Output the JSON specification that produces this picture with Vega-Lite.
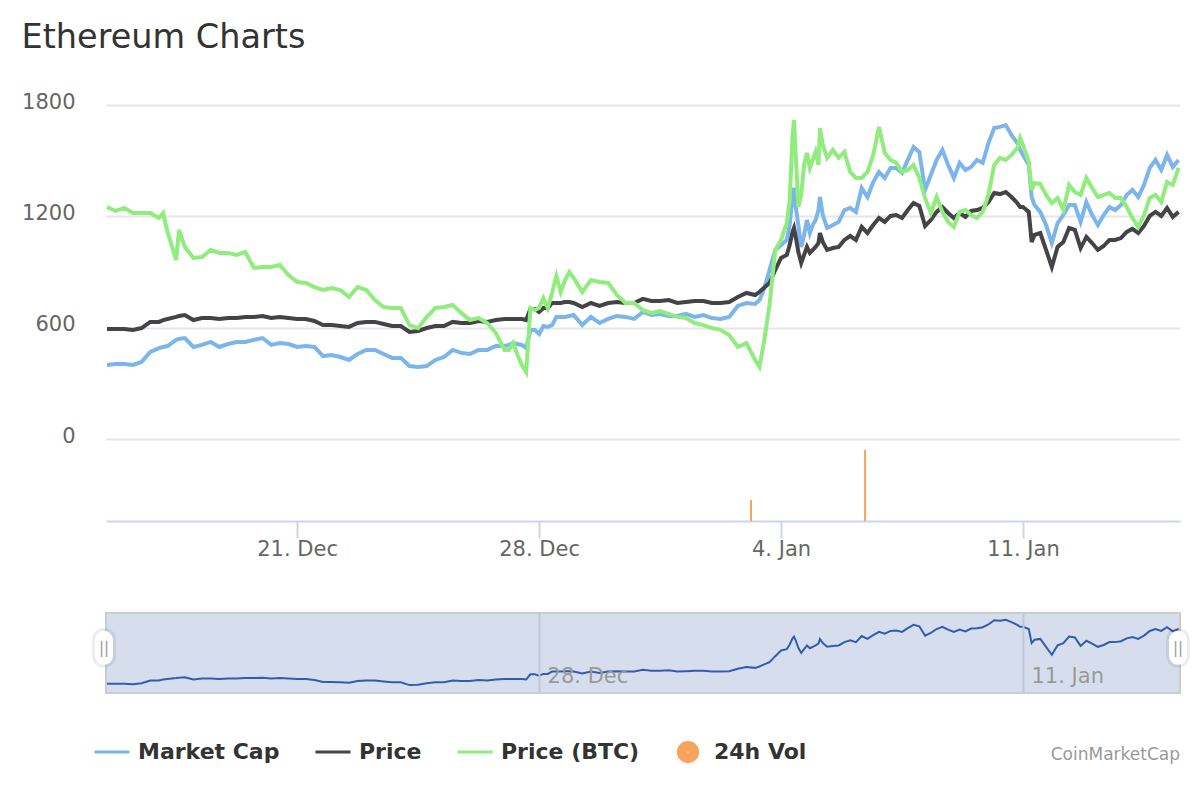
{
  "$schema": "https://vega.github.io/schema/vega-lite/v6.json",
  "title": {"text": "Ethereum Charts", "anchor": "start", "frame": "bounds", "font": "DejaVu Sans", "fontSize": 33.5, "fontWeight": "normal", "color": "#333333", "offset": 36},
  "padding": {"left": 21, "top": 20, "right": 20, "bottom": 5},
  "background": "white",
  "datasets": {
    "prices": [
      {"t":"2017-12-15T12:00","cap":399,"price":593,"btc":1250},
      {"t":"2017-12-15T18:00","cap":404,"price":593,"btc":1229},
      {"t":"2017-12-16T00:00","cap":404,"price":593,"btc":1245},
      {"t":"2017-12-16T06:00","cap":399,"price":588,"btc":1218},
      {"t":"2017-12-16T12:00","cap":415,"price":598,"btc":1218},
      {"t":"2017-12-16T18:00","cap":469,"price":631,"btc":1218},
      {"t":"2017-12-17T00:00","cap":490,"price":631,"btc":1191},
      {"t":"2017-12-17T03:00","cap":496,"price":641,"btc":1218},
      {"t":"2017-12-17T06:00","cap":501,"price":647,"btc":1116},
      {"t":"2017-12-17T12:00","cap":534,"price":658,"btc":965},
      {"t":"2017-12-17T14:00","cap":539,"price":663,"btc":1127},
      {"t":"2017-12-17T18:00","cap":544,"price":668,"btc":1035},
      {"t":"2017-12-18T00:00","cap":496,"price":641,"btc":976},
      {"t":"2017-12-18T06:00","cap":507,"price":652,"btc":981},
      {"t":"2017-12-18T12:00","cap":523,"price":652,"btc":1019},
      {"t":"2017-12-18T18:00","cap":496,"price":647,"btc":1003},
      {"t":"2017-12-19T00:00","cap":512,"price":652,"btc":1003},
      {"t":"2017-12-19T06:00","cap":523,"price":652,"btc":992},
      {"t":"2017-12-19T12:00","cap":523,"price":658,"btc":1008},
      {"t":"2017-12-19T18:00","cap":534,"price":658,"btc":922},
      {"t":"2017-12-20T00:00","cap":544,"price":663,"btc":927},
      {"t":"2017-12-20T06:00","cap":507,"price":652,"btc":927},
      {"t":"2017-12-20T12:00","cap":517,"price":658,"btc":938},
      {"t":"2017-12-20T18:00","cap":512,"price":652,"btc":884},
      {"t":"2017-12-21T00:00","cap":496,"price":647,"btc":846},
      {"t":"2017-12-21T06:00","cap":501,"price":647,"btc":841},
      {"t":"2017-12-21T12:00","cap":496,"price":636,"btc":819},
      {"t":"2017-12-21T18:00","cap":447,"price":614,"btc":803},
      {"t":"2017-12-22T00:00","cap":453,"price":614,"btc":814},
      {"t":"2017-12-22T06:00","cap":442,"price":609,"btc":803},
      {"t":"2017-12-22T12:00","cap":426,"price":604,"btc":765},
      {"t":"2017-12-22T18:00","cap":458,"price":625,"btc":819},
      {"t":"2017-12-23T00:00","cap":480,"price":631,"btc":803},
      {"t":"2017-12-23T06:00","cap":480,"price":631,"btc":749},
      {"t":"2017-12-23T12:00","cap":458,"price":620,"btc":711},
      {"t":"2017-12-23T18:00","cap":437,"price":609,"btc":706},
      {"t":"2017-12-24T00:00","cap":437,"price":609,"btc":706},
      {"t":"2017-12-24T06:00","cap":393,"price":577,"btc":614},
      {"t":"2017-12-24T12:00","cap":388,"price":582,"btc":598},
      {"t":"2017-12-24T18:00","cap":393,"price":598,"btc":658},
      {"t":"2017-12-25T00:00","cap":426,"price":609,"btc":706},
      {"t":"2017-12-25T06:00","cap":442,"price":609,"btc":711},
      {"t":"2017-12-25T12:00","cap":480,"price":631,"btc":722},
      {"t":"2017-12-25T18:00","cap":464,"price":625,"btc":679},
      {"t":"2017-12-26T00:00","cap":458,"price":625,"btc":641},
      {"t":"2017-12-26T06:00","cap":480,"price":636,"btc":652},
      {"t":"2017-12-26T12:00","cap":480,"price":631,"btc":625},
      {"t":"2017-12-26T18:00","cap":501,"price":641,"btc":571},
      {"t":"2017-12-27T00:00","cap":501,"price":647,"btc":480},
      {"t":"2017-12-27T03:00","cap":507,"price":647,"btc":480},
      {"t":"2017-12-27T06:00","cap":517,"price":647,"btc":517},
      {"t":"2017-12-27T09:00","cap":512,"price":647,"btc":453},
      {"t":"2017-12-27T12:00","cap":507,"price":647,"btc":399},
      {"t":"2017-12-27T15:00","cap":490,"price":641,"btc":361},
      {"t":"2017-12-27T18:00","cap":588,"price":701,"btc":706},
      {"t":"2017-12-27T21:00","cap":588,"price":701,"btc":695},
      {"t":"2017-12-28T00:00","cap":566,"price":685,"btc":706},
      {"t":"2017-12-28T03:00","cap":609,"price":706,"btc":760},
      {"t":"2017-12-28T06:00","cap":604,"price":706,"btc":706},
      {"t":"2017-12-28T09:00","cap":614,"price":733,"btc":787},
      {"t":"2017-12-28T12:00","cap":658,"price":733,"btc":879},
      {"t":"2017-12-28T15:00","cap":658,"price":733,"btc":792},
      {"t":"2017-12-28T18:00","cap":658,"price":738,"btc":857},
      {"t":"2017-12-28T21:00","cap":663,"price":738,"btc":900},
      {"t":"2017-12-29T00:00","cap":668,"price":733,"btc":868},
      {"t":"2017-12-29T06:00","cap":614,"price":711,"btc":792},
      {"t":"2017-12-29T12:00","cap":658,"price":733,"btc":857},
      {"t":"2017-12-29T18:00","cap":625,"price":717,"btc":846},
      {"t":"2017-12-30T00:00","cap":647,"price":733,"btc":841},
      {"t":"2017-12-30T06:00","cap":663,"price":738,"btc":776},
      {"t":"2017-12-30T12:00","cap":658,"price":733,"btc":733},
      {"t":"2017-12-30T18:00","cap":647,"price":733,"btc":733},
      {"t":"2017-12-31T00:00","cap":685,"price":755,"btc":695},
      {"t":"2017-12-31T06:00","cap":668,"price":744,"btc":679},
      {"t":"2017-12-31T12:00","cap":674,"price":744,"btc":690},
      {"t":"2017-12-31T18:00","cap":663,"price":749,"btc":674},
      {"t":"2018-01-01T00:00","cap":663,"price":733,"btc":658},
      {"t":"2018-01-01T06:00","cap":674,"price":738,"btc":652},
      {"t":"2018-01-01T12:00","cap":658,"price":744,"btc":625},
      {"t":"2018-01-01T18:00","cap":668,"price":744,"btc":614},
      {"t":"2018-01-02T00:00","cap":652,"price":733,"btc":598},
      {"t":"2018-01-02T06:00","cap":647,"price":733,"btc":588},
      {"t":"2018-01-02T12:00","cap":658,"price":738,"btc":561},
      {"t":"2018-01-02T18:00","cap":717,"price":765,"btc":496},
      {"t":"2018-01-03T00:00","cap":733,"price":787,"btc":517},
      {"t":"2018-01-03T06:00","cap":728,"price":776,"btc":426},
      {"t":"2018-01-03T09:00","cap":749,"price":792,"btc":388},
      {"t":"2018-01-03T12:00","cap":803,"price":814,"btc":517},
      {"t":"2018-01-03T16:00","cap":911,"price":841,"btc":722},
      {"t":"2018-01-03T20:00","cap":1019,"price":911,"btc":1019},
      {"t":"2018-01-04T00:00","cap":1046,"price":976,"btc":1073},
      {"t":"2018-01-04T04:00","cap":1073,"price":992,"btc":1164},
      {"t":"2018-01-04T06:00","cap":1153,"price":1046,"btc":1288},
      {"t":"2018-01-04T08:00","cap":1315,"price":1116,"btc":1639},
      {"t":"2018-01-04T09:00","cap":1353,"price":1137,"btc":1719},
      {"t":"2018-01-04T10:00","cap":1261,"price":1100,"btc":1558},
      {"t":"2018-01-04T12:00","cap":1153,"price":1008,"btc":1250},
      {"t":"2018-01-04T14:00","cap":1035,"price":949,"btc":1315},
      {"t":"2018-01-04T16:00","cap":1100,"price":992,"btc":1477},
      {"t":"2018-01-04T18:00","cap":1180,"price":1035,"btc":1542},
      {"t":"2018-01-04T20:00","cap":1110,"price":1003,"btc":1461},
      {"t":"2018-01-04T22:00","cap":1153,"price":1019,"btc":1504},
      {"t":"2018-01-05T00:00","cap":1180,"price":1035,"btc":1547},
      {"t":"2018-01-05T02:00","cap":1234,"price":1056,"btc":1477},
      {"t":"2018-01-05T03:00","cap":1304,"price":1110,"btc":1676},
      {"t":"2018-01-05T05:00","cap":1207,"price":1062,"btc":1585},
      {"t":"2018-01-05T08:00","cap":1137,"price":1019,"btc":1515},
      {"t":"2018-01-05T12:00","cap":1153,"price":1029,"btc":1558},
      {"t":"2018-01-05T16:00","cap":1170,"price":1035,"btc":1515},
      {"t":"2018-01-05T20:00","cap":1234,"price":1073,"btc":1547},
      {"t":"2018-01-06T00:00","cap":1245,"price":1094,"btc":1439},
      {"t":"2018-01-06T04:00","cap":1224,"price":1073,"btc":1407},
      {"t":"2018-01-06T08:00","cap":1353,"price":1143,"btc":1407},
      {"t":"2018-01-06T12:00","cap":1304,"price":1110,"btc":1439},
      {"t":"2018-01-06T16:00","cap":1385,"price":1153,"btc":1531},
      {"t":"2018-01-06T20:00","cap":1439,"price":1191,"btc":1682},
      {"t":"2018-01-07T00:00","cap":1407,"price":1170,"btc":1542},
      {"t":"2018-01-07T04:00","cap":1461,"price":1202,"btc":1504},
      {"t":"2018-01-07T08:00","cap":1461,"price":1207,"btc":1488},
      {"t":"2018-01-07T12:00","cap":1434,"price":1191,"btc":1439},
      {"t":"2018-01-07T16:00","cap":1504,"price":1234,"btc":1450},
      {"t":"2018-01-07T20:00","cap":1574,"price":1272,"btc":1477},
      {"t":"2018-01-08T00:00","cap":1547,"price":1256,"btc":1407},
      {"t":"2018-01-08T04:00","cap":1342,"price":1148,"btc":1299},
      {"t":"2018-01-08T08:00","cap":1423,"price":1180,"btc":1218},
      {"t":"2018-01-08T12:00","cap":1504,"price":1224,"btc":1304},
      {"t":"2018-01-08T16:00","cap":1558,"price":1250,"btc":1224},
      {"t":"2018-01-08T20:00","cap":1477,"price":1218,"btc":1170},
      {"t":"2018-01-09T00:00","cap":1407,"price":1191,"btc":1143},
      {"t":"2018-01-09T04:00","cap":1488,"price":1218,"btc":1224},
      {"t":"2018-01-09T08:00","cap":1450,"price":1197,"btc":1234},
      {"t":"2018-01-09T12:00","cap":1466,"price":1229,"btc":1207},
      {"t":"2018-01-09T16:00","cap":1504,"price":1234,"btc":1191},
      {"t":"2018-01-09T20:00","cap":1488,"price":1245,"btc":1224},
      {"t":"2018-01-10T00:00","cap":1595,"price":1277,"btc":1315},
      {"t":"2018-01-10T04:00","cap":1676,"price":1326,"btc":1477},
      {"t":"2018-01-10T08:00","cap":1682,"price":1320,"btc":1515},
      {"t":"2018-01-10T12:00","cap":1692,"price":1331,"btc":1504},
      {"t":"2018-01-10T16:00","cap":1639,"price":1304,"btc":1531},
      {"t":"2018-01-10T20:00","cap":1595,"price":1272,"btc":1568},
      {"t":"2018-01-10T22:00","cap":1558,"price":1250,"btc":1622},
      {"t":"2018-01-11T00:00","cap":1531,"price":1250,"btc":1585},
      {"t":"2018-01-11T04:00","cap":1477,"price":1224,"btc":1493},
      {"t":"2018-01-11T06:00","cap":1304,"price":1062,"btc":1342},
      {"t":"2018-01-11T08:00","cap":1261,"price":1100,"btc":1380},
      {"t":"2018-01-11T12:00","cap":1224,"price":1110,"btc":1374},
      {"t":"2018-01-11T16:00","cap":1153,"price":1019,"btc":1315},
      {"t":"2018-01-11T20:00","cap":1056,"price":927,"btc":1272},
      {"t":"2018-01-12T00:00","cap":1164,"price":1035,"btc":1299},
      {"t":"2018-01-12T04:00","cap":1207,"price":1062,"btc":1234},
      {"t":"2018-01-12T08:00","cap":1261,"price":1137,"btc":1369},
      {"t":"2018-01-12T12:00","cap":1261,"price":1127,"btc":1331},
      {"t":"2018-01-12T16:00","cap":1170,"price":1029,"btc":1315},
      {"t":"2018-01-12T20:00","cap":1277,"price":1089,"btc":1407},
      {"t":"2018-01-13T00:00","cap":1207,"price":1056,"btc":1353},
      {"t":"2018-01-13T04:00","cap":1153,"price":1019,"btc":1304},
      {"t":"2018-01-13T08:00","cap":1207,"price":1040,"btc":1315},
      {"t":"2018-01-13T12:00","cap":1250,"price":1073,"btc":1326},
      {"t":"2018-01-13T16:00","cap":1234,"price":1073,"btc":1299},
      {"t":"2018-01-13T20:00","cap":1261,"price":1083,"btc":1299},
      {"t":"2018-01-14T00:00","cap":1315,"price":1116,"btc":1250},
      {"t":"2018-01-14T04:00","cap":1342,"price":1132,"btc":1191},
      {"t":"2018-01-14T08:00","cap":1304,"price":1110,"btc":1143},
      {"t":"2018-01-14T12:00","cap":1369,"price":1148,"btc":1207},
      {"t":"2018-01-14T16:00","cap":1461,"price":1202,"btc":1299},
      {"t":"2018-01-14T20:00","cap":1504,"price":1224,"btc":1315},
      {"t":"2018-01-15T00:00","cap":1450,"price":1202,"btc":1277},
      {"t":"2018-01-15T04:00","cap":1531,"price":1245,"btc":1385},
      {"t":"2018-01-15T08:00","cap":1466,"price":1197,"btc":1369},
      {"t":"2018-01-15T12:00","cap":1504,"price":1224,"btc":1461}
    ],
    "volume": [
      {"t":"2018-01-03T03:10","vol":21},
      {"t":"2018-01-06T10:20","vol":71}
    ],
    "handles": [
      {"t":"2017-12-15T09:55","lo":915,"hi":1100,"mid":1008,"grip":"||"},
      {"t":"2018-01-15T11:36","lo":915,"hi":1100,"mid":1008,"grip":"||"}
    ],
    "series": [
      {"name":"Market Cap"},
      {"name":"Price"},
      {"name":"Price (BTC)"},
      {"name":"24h Vol"}
    ],
    "credit": [
      {"t":"2018-01-15T13:00","label":"CoinMarketCap"}
    ]
  },
  "spacing": 53,
  "bounds": "full",
  "vconcat": [
    {
      "spacing": 0,
      "bounds": "flush",
      "vconcat": [
        {
          "width": 1074,
          "height": 334,
          "view": {"stroke": null},
          "data": {"name": "prices"},
          "transform": [{"fold": ["cap", "price", "btc"], "as": ["series", "value"]}],
          "mark": {"type": "line", "strokeWidth": 4, "interpolate": "linear"},
          "encoding": {
            "x": {
              "field": "t",
              "type": "temporal",
              "axis": null,
              "scale": {"domain": ["2017-12-15T11:18", "2018-01-15T13:00"], "nice": false}
            },
            "y": {
              "field": "value",
              "type": "quantitative",
              "scale": {"domain": [0, 1800], "nice": false},
              "axis": {
                "title": null,
                "values": [0, 600, 1200, 1800],
                "format": "d",
                "domain": false,
                "ticks": false,
                "gridColor": "#e6e6e6",
                "gridWidth": 2,
                "labelFont": "DejaVu Sans",
                "labelFontSize": 21,
                "labelColor": "#666666",
                "labelPadding": 31,
                "labelOffset": -3
              }
            },
            "color": {
              "field": "series",
              "type": "nominal",
              "legend": null,
              "scale": {"domain": ["cap", "price", "btc"], "range": ["#7cb5ec", "#434348", "#90ed7d"]}
            }
          }
        },
        {
          "width": 1074,
          "height": 82,
          "view": {"stroke": null},
          "data": {"name": "volume"},
          "mark": {"type": "bar", "width": 2, "color": "#f7a35c"},
          "encoding": {
            "x": {
              "field": "t",
              "type": "temporal",
              "scale": {"domain": ["2017-12-15T11:18", "2018-01-15T13:00"], "nice": false, "padding": 0},
              "axis": {
                "title": null,
                "grid": false,
                "values": [
                  {"year": 2017, "month": 12, "date": 21},
                  {"year": 2017, "month": 12, "date": 28},
                  {"year": 2018, "month": 1, "date": 4},
                  {"year": 2018, "month": 1, "date": 11}
                ],
                "format": "%-d. %b",
                "domainColor": "#ccd6eb",
                "domainWidth": 2,
                "tickColor": "#ccd6eb",
                "tickSize": 17,
                "tickWidth": 2,
                "labelFont": "DejaVu Sans",
                "labelFontSize": 21,
                "labelColor": "#666666",
                "labelPadding": 0,
                "labelFlush": false
              }
            },
            "y": {
              "field": "vol",
              "type": "quantitative",
              "axis": null,
              "scale": {"domain": [0, 82], "nice": false}
            }
          }
        }
      ]
    },
    {
      "spacing": 40,
      "bounds": "flush",
      "vconcat": [
        {
          "width": 1074,
          "height": 80,
          "view": {"fill": "#d6deed", "stroke": "#cccccc", "strokeWidth": 2},
          "encoding": {
            "x": {
              "field": "t",
              "type": "temporal",
              "scale": {"domain": ["2017-12-15T11:18", "2018-01-15T13:00"], "nice": false},
              "axis": {
                "title": null,
                "orient": "bottom",
                "values": [
                  {"year": 2017, "month": 12, "date": 28},
                  {"year": 2018, "month": 1, "date": 11}
                ],
                "format": "%-d. %b",
                "domain": false,
                "ticks": false,
                "grid": true,
                "gridColor": "#c0c8d8",
                "gridWidth": 2,
                "labelAlign": "left",
                "labelFont": "DejaVu Sans",
                "labelFontSize": 21,
                "labelColor": "#999999",
                "labelPadding": -28,
                "labelOffset": 8,
                "labelFlush": false,
                "zindex": 1
              }
            }
          },
          "layer": [
            {
              "data": {"name": "prices"},
              "mark": {"type": "line", "color": "#335cad", "strokeWidth": 2},
              "encoding": {
                "y": {
                  "field": "price",
                  "type": "quantitative",
                  "axis": null,
                  "scale": {"domain": [486, 1409], "nice": false}
                }
              }
            },
            {
              "data": {"name": "handles"},
              "mark": {"type": "rule", "strokeWidth": 24, "strokeCap": "round", "color": "#000000", "opacity": 0.07},
              "encoding": {
                "y": {"field": "lo", "type": "quantitative", "axis": null, "scale": {"domain": [486, 1409], "nice": false}},
                "y2": {"field": "hi"}
              }
            },
            {
              "data": {"name": "handles"},
              "mark": {"type": "rule", "strokeWidth": 18, "strokeCap": "round", "color": "#ffffff"},
              "encoding": {
                "y": {"field": "lo", "type": "quantitative", "axis": null, "scale": {"domain": [486, 1409], "nice": false}},
                "y2": {"field": "hi"}
              }
            },
            {
              "data": {"name": "handles"},
              "mark": {"type": "text", "font": "DejaVu Sans", "fontSize": 15, "color": "#999999"},
              "encoding": {
                "y": {"field": "mid", "type": "quantitative", "axis": null, "scale": {"domain": [486, 1409], "nice": false}},
                "text": {"field": "grip"}
              }
            }
          ]
        },
        {
          "width": 1074,
          "height": 44,
          "view": {"stroke": null},
          "layer": [
            {
              "data": {"name": "series"},
              "mark": {"type": "point", "opacity": 0, "strokeWidth": 3, "size": 1225},
              "encoding": {
                "stroke": {
                  "field": "name",
                  "type": "nominal",
                  "scale": {
                    "domain": ["Market Cap", "Price", "Price (BTC)", "24h Vol"],
                    "range": ["#7cb5ec", "#434348", "#90ed7d", "#f7a35c"]
                  },
                  "legend": {
                    "title": null,
                    "orient": "none",
                    "direction": "horizontal",
                    "legendX": -13,
                    "legendY": 628,
                    "gridAlign": "none",
                    "columnPadding": 29,
                    "symbolSize": 1225,
                    "symbolOpacity": 1,
                    "symbolStrokeWidth": 3,
                    "labelFont": "DejaVu Sans",
                    "labelFontSize": 22,
                    "labelFontWeight": "bold",
                    "labelColor": "#333333",
                    "labelOffset": 7
                  }
                },
                "shape": {
                  "field": "name",
                  "type": "nominal",
                  "scale": {
                    "domain": ["Market Cap", "Price", "Price (BTC)", "24h Vol"],
                    "range": ["stroke", "stroke", "stroke", "M-0.55,0A0.55,0.55,0,1,1,0.55,0A0.55,0.55,0,1,1,-0.55,0ZM-0.4,0A0.4,0.4,0,1,1,0.4,0A0.4,0.4,0,1,1,-0.4,0ZM-0.26,0A0.26,0.26,0,1,1,0.26,0A0.26,0.26,0,1,1,-0.26,0ZM-0.12,0A0.12,0.12,0,1,1,0.12,0A0.12,0.12,0,1,1,-0.12,0Z"]
                  }
                }
              }
            },
            {
              "data": {"name": "credit"},
              "mark": {"type": "text", "align": "right", "font": "DejaVu Sans", "fontSize": 17, "color": "#999999"},
              "encoding": {
                "x": {
                  "field": "t",
                  "type": "temporal",
                  "axis": null,
                  "scale": {"domain": ["2017-12-15T11:18", "2018-01-15T13:00"], "nice": false}
                },
                "text": {"field": "label"}
              }
            }
          ]
        }
      ]
    }
  ]
}
